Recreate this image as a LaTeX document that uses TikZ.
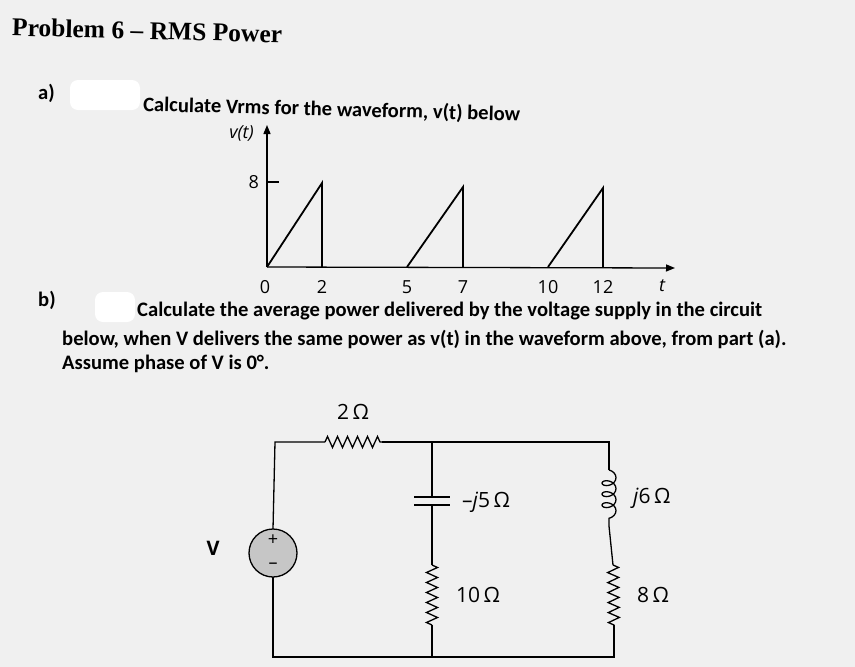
\documentclass[tikz,border=0pt]{standalone}
\usepackage{fontspec}
\setmainfont{Carlito}
\newfontfamily\titlefont{Liberation Serif}
\newfontfamily\circfont{Open Sans}
\usetikzlibrary{decorations.pathmorphing,decorations.pathreplacing,arrows.meta}
\begin{document}
\begin{tikzpicture}[x=1pt,y=-1pt,
  txt/.style={anchor=west,inner sep=0pt,font=\bfseries\fontsize{20.6}{23}\selectfont},
  clab/.style={anchor=west,inner sep=0pt,font=\circfont\fontsize{21}{24}\selectfont},
  wlab/.style={inner sep=0pt,font=\circfont\fontsize{18}{20}\selectfont},
  wave/.style={line width=1.8pt,line join=miter},
  wire/.style={line width=1.3pt},
  res/.style={wire,decorate,decoration={zigzag,segment length=10pt,amplitude=5.5pt}},
  blob/.style={fill=white,rounded corners=8pt,draw=none}]
\fill[gray!12] (0,0) rectangle (855,667);
\useasboundingbox (0,0) rectangle (855,667);
% header
\node[anchor=west,inner sep=0pt,font=\titlefont\bfseries\fontsize{25.5}{28}\selectfont,rotate=-1.5] (title) at (12,27) {Problem 6 – RMS Power};
\node[txt] (pa) at (38,93) {a)};
\fill[blob] (70,80) rectangle (140,110);
\node[txt,rotate=-1.5] (qa) at (143,105) {Calculate Vrms for the waveform, v(t) below};
% waveform
\coordinate (O) at (267,267);
\coordinate (ytop) at (267,125);
\coordinate (xend) at (675,268);
\draw[wire,-{Triangle[length=9pt,width=7pt]}] (O) -- (ytop);
\draw[wire,-{Triangle[length=9pt,width=7pt]}] (O) -- (xend);
\draw[wire] (267,182) -- (279,182);
\node[wlab,anchor=east] (eight) at (259,182) {8};
\node[wlab,anchor=east,font=\circfont\itshape\fontsize{18}{20}\selectfont] (vt) at (254,133) {v(t)};
\draw[wave] (O) -- (322,183) -- (322,267);
\draw[wave] (407,267) -- (463,187) -- (463,267);
\draw[wave] (548,267) -- (603,188) -- (603,267);
\foreach \t/\xx in {0/265,2/322,5/407,7/463,10/548,12/603}
  \node[wlab] (tick\t) at (\xx,287) {\t};
\node[wlab,font=\circfont\itshape\fontsize{18}{20}\selectfont] (tl) at (662,286) {t};
% part b
\node[txt] (pb) at (38,300) {b)};
\fill[blob] (95,292) rectangle (135,322);
\node[txt] (qb1) at (137,311) {Calculate the average power delivered by the voltage supply in the circuit};
\node[txt] (qb2) at (62,339) {below, when V delivers the same power as v(t) in the waveform above, from part (a).};
\node[txt] (qb3) at (62,364) {Assume phase of V is 0°.};
% circuit
\coordinate (tl0) at (275,442);
\coordinate (r1a) at (325,442);
\coordinate (r1b) at (382,442);
\coordinate (mtop) at (432,442);
\coordinate (rtop) at (609,442);
\coordinate (bl) at (273,657);
\coordinate (mbot) at (432,657);
\coordinate (rbot) at (614,657);
\draw[wire] (273,577) -- (bl) -- (mbot) -- (rbot) -- (614,625);
\draw[wire] (273,529) -- (tl0) -- (r1a);
\draw[res] (r1a) -- (r1b);
\draw[wire] (r1b) -- (mtop) -- (rtop) -- (609,470);
% capacitor branch
\draw[wire] (mtop) -- (432,497);
\draw[wire] (414,497) -- (450,497);
\draw[wire] (414,505) -- (450,505);
\draw[wire] (432,505) -- (432,565);
\draw[res] (432,565) -- (432,625);
\draw[wire] (432,625) -- (mbot);
% inductor branch
\draw[wire,decorate,decoration={coil,aspect=0.7,segment length=11pt,amplitude=7pt}] (609,470) -- (609,526);
\draw[wire] (609,526) -- (613,565);
\draw[res] (613,565) -- (614,625);
% source
\node[circle,draw,line width=1.3pt,fill=gray!45,minimum size=48pt,inner sep=0pt] (src) at (273,553) {};
\node[font=\circfont\fontsize{18}{20}\selectfont,inner sep=0pt] (plus) at (273,540) {+};
\node[font=\circfont\fontsize{18}{20}\selectfont,inner sep=0pt] (minus) at (273,566) {–};
\node[font=\circfont\bfseries\fontsize{20}{22}\selectfont,inner sep=0pt] (V) at (213,548) {V};
% labels
\node[font=\circfont\fontsize{21}{24}\selectfont,inner sep=0pt] (l2) at (353,412) {2\,Ω};
\node[clab] (l5) at (462,502) {–\textit{j}5\,Ω};
\node[clab] (l10) at (456,595) {10\,Ω};
\node[clab] (l6) at (633,498) {\textit{j}6\,Ω};
\node[clab] (l8) at (637,595) {8\,Ω};
\end{tikzpicture}
\end{document}
